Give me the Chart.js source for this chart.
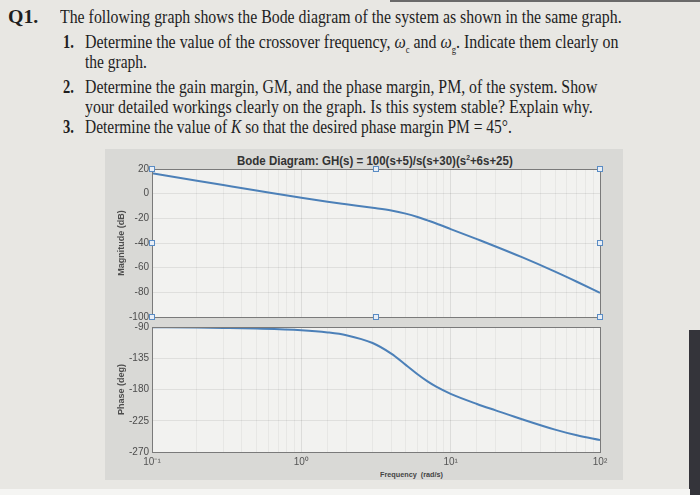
<!DOCTYPE html>
<html>
<head>
<meta charset="utf-8">
<script src="https://cdn.jsdelivr.net/npm/chart.js@4.4.1/dist/chart.umd.min.js"></script>
<style>
  html, body { margin: 0; padding: 0; }
  body { width: 700px; height: 495px; position: relative; overflow: hidden; background: #e8e7e3; font-family: "Liberation Serif", "Times New Roman", serif; }
  .ln { position: absolute; white-space: nowrap; font-size: 18.5px; line-height: 20px; color: #1e1e1e; transform-origin: 0 50%; }
  .ln sub { font-size: 10px; line-height: 0; }
  #panel { position: absolute; left: 105px; top: 149px; width: 518px; height: 331px; background: #d9d9d6; }
  .sans { font-family: "Liberation Sans", Arial, sans-serif; }
  #title { font-weight: bold; font-size: 12px; color: #333; }
  #title sup { font-size: 7px; line-height: 0; }
  #xtitle { font-weight: bold; font-size: 7.5px; color: #444; }
  canvas { position: absolute; }
  #bottomStrip { position: absolute; left: 0; top: 489px; width: 690px; height: 6px; background: #f5f5f3; }
  #rightEdge { position: absolute; left: 689px; top: 330px; width: 11px; height: 165px; background: #34343a; }
  #topEdge { position: absolute; left: 390px; top: 0; width: 310px; height: 2px; background: #6a6a6a; }
</style>
</head>
<body>
<div id="topEdge"></div>
<div id="rightEdge"></div>
<div id="bottomStrip"></div>

<div class="ln" style="left:8px; top:7px;" data-w="30"><b>Q1.</b></div>
<div class="ln" style="left:60px; top:7px;" data-w="562">The following graph shows the Bode diagram of the system as shown in the same graph.</div>
<div class="ln" style="left:63px; top:32px;" data-w="11"><b>1.</b></div>
<div class="ln" style="left:85px; top:32px;" data-w="533">Determine the value of the crossover frequency, <i>ω</i><sub>c</sub> and <i>ω</i><sub>g</sub>. Indicate them clearly on</div>
<div class="ln" style="left:85px; top:52px;" data-w="62">the graph.</div>
<div class="ln" style="left:63px; top:77px;" data-w="11"><b>2.</b></div>
<div class="ln" style="left:85px; top:77px;" data-w="512">Determine the gain margin, GM, and the phase margin, PM, of the system. Show</div>
<div class="ln" style="left:85px; top:97px;" data-w="508">your detailed workings clearly on the graph. Is this system stable? Explain why.</div>
<div class="ln" style="left:63px; top:117px;" data-w="11"><b>3.</b></div>
<div class="ln" style="left:85px; top:117px;" data-w="427">Determine the value of <i>K</i> so that the desired phase margin PM = 45°.</div>

<div id="panel"></div>
<div id="title" class="ln sans" style="left:237px; top:151px;" data-w="276">Bode Diagram: GH(s) = 100(s+5)/s(s+30)(s<sup>2</sup>+6s+25)</div>
<div id="xtitle" class="ln sans" style="left:380px; top:465px;" data-w="63">Frequency&nbsp; (rad/s)</div>

<canvas id="magChart" width="520" height="166" style="left:100px; top:160px;"></canvas>
<canvas id="phaseChart" width="520" height="160" style="left:100px; top:318px;"></canvas>

<script>
// frequencies (rad/s) and the read-off response
const freq = [0.1, 0.2, 0.3, 0.5, 1, 1.5, 2, 3, 4, 5, 6, 7, 8, 10, 15, 20, 30, 50, 70, 100];
const magDb = [16.5, 10.5, 7.0, 2.6, -3.3, -6.5, -8.6, -11.5, -13.7, -16.2, -18.9, -21.7, -24.2, -28.7, -36.9, -42.8, -51.5, -63.2, -71.4, -80.4];
const phaseDeg = [-90.4, -90.8, -91.3, -92.2, -94.6, -97.8, -101.8, -113.1, -128.4, -144.5, -158.1, -168.4, -176.0, -186.3, -200.8, -210.0, -222.8, -237.8, -246.0, -252.8];
const magTicks = [20, 0, -20, -40, -60, -80, -100];
const phaseTicks = [-90, -135, -180, -225, -270];
const decadeLabels = { "-1": "10⁻¹", "0": "10⁰", "1": "10¹", "2": "10²" };

// squeeze each text line to the width it has in the photo
document.querySelectorAll(".ln").forEach(function (el) {
    const w = parseFloat(el.dataset.w);
    el.style.transform = "scaleX(" + (w / el.offsetWidth) + ")";
});

const lineColor = "#4c80b8";
const tickFont = { family: "Liberation Sans, Arial, sans-serif", size: 10 };

const plotFrame = {
    id: "plotFrame",
    beforeDraw(chart) {
        const a = chart.chartArea, ctx = chart.ctx;
        ctx.save();
        ctx.fillStyle = "#f2f2f0";
        ctx.fillRect(a.left, a.top, a.right - a.left, a.bottom - a.top);
        ctx.restore();
    },
    afterDraw(chart, args, opts) {
        const a = chart.chartArea, ctx = chart.ctx;
        ctx.save();
        ctx.strokeStyle = "#7a7a7a";
        ctx.lineWidth = 1;
        ctx.strokeRect(a.left + 0.5, a.top + 0.5, a.right - a.left, a.bottom - a.top);
        if (opts.handles) {
            // selection handles around the magnitude axes
            const xs = [a.left, (a.left + a.right) / 2, a.right];
            const ys = [a.top, (a.top + a.bottom) / 2, a.bottom];
            ctx.strokeStyle = "#5a8cc4";
            ctx.fillStyle = "#e8eef6";
            xs.forEach(function (x, i) {
                ys.forEach(function (y, j) {
                    if (i === 1 && j === 1) return;
                    ctx.fillRect(x - 2.5, y - 2.5, 5, 5);
                    ctx.strokeRect(x - 2.5, y - 2.5, 5, 5);
                });
            });
        }
        ctx.restore();
    }
};

function isDecade(v) {
    const l = Math.log10(v);
    return Math.abs(l - Math.round(l)) < 1e-9;
}

function xScale(showLabels, height) {
    return {
        type: "logarithmic",
        min: freq[0],
        max: freq[freq.length - 1],
        border: { display: false },
        grid: {
            drawTicks: false,
            color: function (c) { return c.tick && isDecade(c.tick.value) ? "rgba(0,0,0,0.09)" : "rgba(0,0,0,0.045)"; }
        },
        ticks: {
            display: showLabels,
            autoSkip: false,
            maxRotation: 0,
            padding: 4,
            color: "#555",
            font: tickFont,
            callback: function (v) {
                return isDecade(v) ? decadeLabels[String(Math.round(Math.log10(v)))] : "";
            }
        },
        afterFit: function (s) { s.height = height; }
    };
}

function yScale(ticks, label) {
    return {
        min: Math.min.apply(null, ticks),
        max: Math.max.apply(null, ticks),
        border: { display: false },
        grid: { color: "rgba(0,0,0,0.08)", drawTicks: false },
        afterBuildTicks: function (s) { s.ticks = ticks.map(function (v) { return { value: v }; }); },
        ticks: { padding: 3, color: "#4d4d4d", font: tickFont },
        title: {
            display: true,
            text: label,
            color: "#4d4d4d",
            padding: { top: 2, bottom: 0 },
            font: { family: "Liberation Sans, Arial, sans-serif", size: 9, weight: "bold" }
        },
        afterFit: function (s) { s.width = 38; }
    };
}

function lineData(values) {
    return {
        labels: freq,
        datasets: [{
            data: freq.map(function (f, i) { return { x: f, y: values[i] }; }),
            borderColor: lineColor,
            borderWidth: 2,
            pointRadius: 0,
            cubicInterpolationMode: "monotone",
            fill: false
        }]
    };
}

const commonPlugins = { legend: { display: false }, tooltip: { enabled: false } };

new Chart(document.getElementById("magChart").getContext("2d"), {
    type: "line",
    data: lineData(magDb),
    options: {
        responsive: false,
        animation: false,
        layout: { padding: { left: 14, right: 20, top: 8, bottom: 5 } },
        scales: { x: xScale(false, 0), y: yScale(magTicks, "Magnitude (dB)") },
        plugins: Object.assign({ plotFrame: { handles: true } }, commonPlugins)
    },
    plugins: [plotFrame]
});

new Chart(document.getElementById("phaseChart").getContext("2d"), {
    type: "line",
    data: lineData(phaseDeg),
    options: {
        responsive: false,
        animation: false,
        layout: { padding: { left: 14, right: 20, top: 7, bottom: 0 } },
        scales: { x: xScale(true, 26), y: yScale(phaseTicks, "Phase (deg)") },
        plugins: Object.assign({ plotFrame: { handles: false } }, commonPlugins)
    },
    plugins: [plotFrame]
});
</script>
</body>
</html>
